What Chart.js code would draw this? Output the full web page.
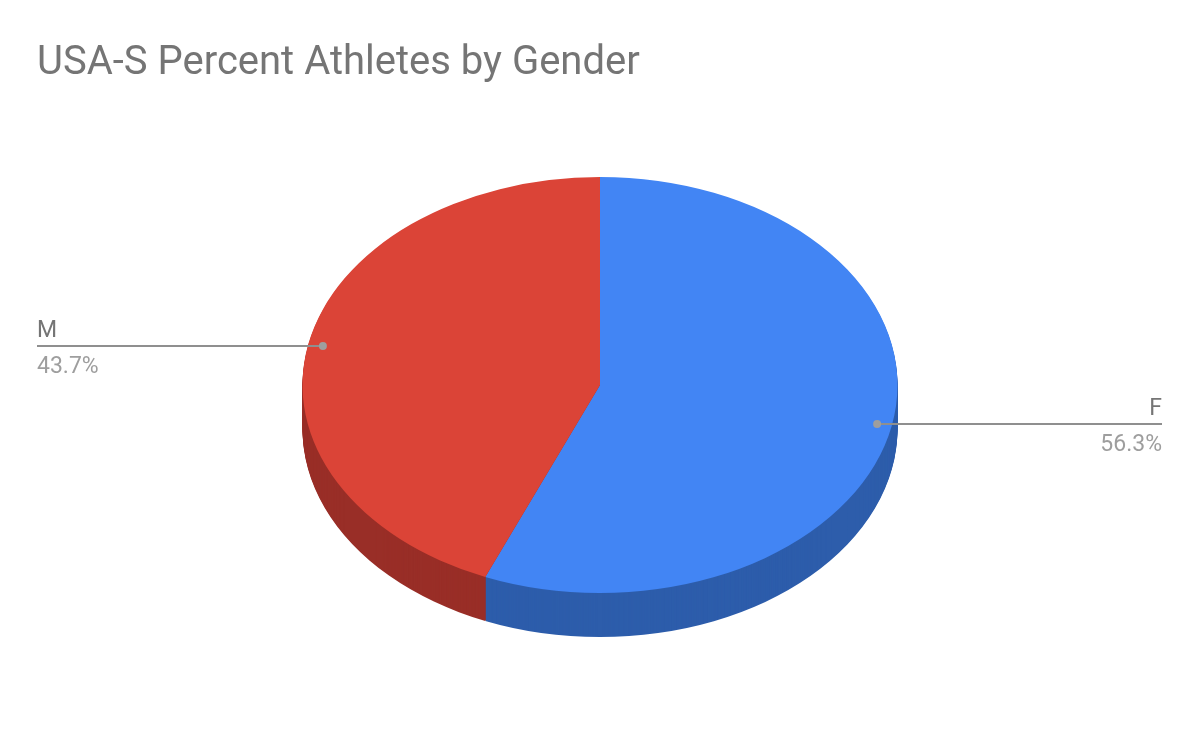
<!DOCTYPE html>
<html>
<head>
<meta charset="utf-8">
<title>USA-S Percent Athletes by Gender</title>
<script src="https://cdn.jsdelivr.net/npm/chart.js@4.4.0/dist/chart.umd.min.js"></script>
<style>
  body { margin: 0; background: #fff; }
  #wrap { width: 1200px; height: 742px; }
</style>
</head>
<body>
<div id="wrap"><canvas id="chart"></canvas></div>
<script>
// Dados do gráfico
const categories = ['F', 'M'];
const percentValues = [56.3, 43.7];

// Cores (face de cima e lateral)
const topColors = ['#4285F4', '#DB4437'];
const sideColors = ['#2D5DAB', '#992E27'];

// Geometria da pizza "3D" na tela
const CX = 600, CY = 385, RX = 297.5, RY = 208, DEPTH = 44;
const LEFT_EDGE = 37, RIGHT_EDGE = 1162;

// Aplica a inclinação (achata o círculo do Chart.js numa elipse)
function applyTilt(ctx, arc, dy) {
  const R = arc.outerRadius;
  ctx.translate(CX, CY + dy);
  ctx.scale(RX / R, RY / R);
  ctx.translate(-arc.x, -arc.y);
}

const pie3d = {
  id: 'pie3d',
  beforeDatasetsDraw(chart) {
    const ctx = chart.ctx;
    const arcs = chart.getDatasetMeta(0).data;
    // lateral: várias camadas deslocadas para baixo
    for (let d = DEPTH; d > 0; d--) {
      ctx.save();
      applyTilt(ctx, arcs[0], d);
      arcs.forEach((a, i) => {
        ctx.beginPath();
        ctx.moveTo(a.x, a.y);
        ctx.arc(a.x, a.y, a.outerRadius, a.startAngle, a.endAngle);
        ctx.closePath();
        ctx.fillStyle = sideColors[i];
        ctx.fill();
      });
      ctx.restore();
    }
    // a face de cima é desenhada pelo próprio Chart.js com a transformação
    ctx.save();
    applyTilt(ctx, arcs[0], 0);
  },
  afterDatasetsDraw(chart) {
    const ctx = chart.ctx;
    ctx.restore();

    const arcs = chart.getDatasetMeta(0).data;
    const total = percentValues.reduce((s, v) => s + v, 0);
    arcs.forEach((a, i) => {
      const mid = (a.startAngle + a.endAngle) / 2;
      const px = CX + 0.95 * RX * Math.cos(mid);
      const py = Math.round(CY + 0.95 * RY * Math.sin(mid));
      const right = Math.cos(mid) >= 0;
      const ex = right ? RIGHT_EDGE : LEFT_EDGE;

      // linha guia
      ctx.beginPath();
      ctx.moveTo(px, py);
      ctx.lineTo(ex, py);
      ctx.strokeStyle = '#8f8f8f';
      ctx.lineWidth = 2;
      ctx.stroke();

      ctx.beginPath();
      ctx.arc(px, py, 4, 0, Math.PI * 2);
      ctx.fillStyle = '#9e9e9e';
      ctx.fill();

      // textos
      ctx.textAlign = right ? 'right' : 'left';
      ctx.textBaseline = 'alphabetic';
      ctx.font = '23px Roboto';
      ctx.fillStyle = '#757575';
      ctx.fillText(categories[i], ex, py - 9);
      ctx.fillStyle = '#9e9e9e';
      ctx.fillText((percentValues[i] / total * 100).toFixed(1) + '%', ex, py + 27);
    });
  }
};

new Chart(document.getElementById('chart'), {
  type: 'pie',
  data: {
    labels: categories,
    datasets: [{
      data: percentValues,
      backgroundColor: topColors,
      borderWidth: 0,
      clip: false
    }]
  },
  options: {
    responsive: true,
    maintainAspectRatio: false,
    animation: false,
    layout: { padding: { left: LEFT_EDGE, right: 20, top: 0, bottom: 20 } },
    plugins: {
      legend: { display: false },
      tooltip: { enabled: false },
      title: {
        display: true,
        text: 'USA-S Percent Athletes by Gender',
        align: 'start',
        color: '#757575',
        font: { family: 'Roboto', size: 40, weight: 'normal' },
        padding: { top: 40, bottom: 20 }
      }
    }
  },
  plugins: [pie3d]
});
</script>
</body>
</html>
